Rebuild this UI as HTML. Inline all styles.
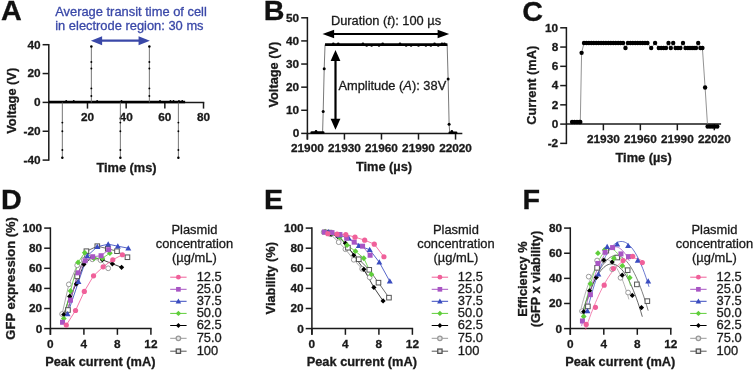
<!DOCTYPE html>
<html lang="en"><head><meta charset="utf-8"><title>Figure</title>
<style>html,body{margin:0;padding:0;background:#fff;}svg{display:block;filter:blur(0.35px);}text{font-family:"Liberation Sans",Arial,Helvetica,sans-serif;}</style></head>
<body>
<svg width="753" height="370" viewBox="0 0 753 370" font-family="'Liberation Sans', Arial, Helvetica, sans-serif" shape-rendering="geometricPrecision">
<rect width="753" height="370" fill="#fff"/>
<text transform="translate(1 20.4) scale(1.045 1)" font-size="27.5" font-weight="bold" fill="#111" stroke="#111" stroke-width="0.3">A</text>
<line x1="48.8" y1="43.95" x2="48.8" y2="160.85" stroke="#1a1a1a" stroke-width="1.5" />
<line x1="42.6" y1="44.7" x2="48.8" y2="44.7" stroke="#1a1a1a" stroke-width="1.5" />
<text x="40.6" y="48.6" font-size="11.8" font-weight="bold" text-anchor="end" fill="#1a1a1a" stroke="#1a1a1a" stroke-width="0.3" >40</text>
<line x1="42.6" y1="73.55" x2="48.8" y2="73.55" stroke="#1a1a1a" stroke-width="1.5" />
<text x="40.6" y="77.45" font-size="11.8" font-weight="bold" text-anchor="end" fill="#1a1a1a" stroke="#1a1a1a" stroke-width="0.3" >20</text>
<line x1="42.6" y1="102.4" x2="48.8" y2="102.4" stroke="#1a1a1a" stroke-width="1.5" />
<text x="40.6" y="106.3" font-size="11.8" font-weight="bold" text-anchor="end" fill="#1a1a1a" stroke="#1a1a1a" stroke-width="0.3" >0</text>
<line x1="42.6" y1="131.25" x2="48.8" y2="131.25" stroke="#1a1a1a" stroke-width="1.5" />
<text x="40.6" y="135.15" font-size="11.8" font-weight="bold" text-anchor="end" fill="#1a1a1a" stroke="#1a1a1a" stroke-width="0.3" >-20</text>
<line x1="42.6" y1="160.1" x2="48.8" y2="160.1" stroke="#1a1a1a" stroke-width="1.5" />
<text x="40.6" y="164" font-size="11.8" font-weight="bold" text-anchor="end" fill="#1a1a1a" stroke="#1a1a1a" stroke-width="0.3" >-40</text>
<line x1="48.8" y1="102.4" x2="204.27" y2="102.4" stroke="#1a1a1a" stroke-width="1.5" />
<line x1="87.48" y1="102.4" x2="87.48" y2="108.6" stroke="#1a1a1a" stroke-width="1.5" />
<text x="87.48" y="121.4" font-size="11.8" font-weight="bold" text-anchor="middle" fill="#1a1a1a" stroke="#1a1a1a" stroke-width="0.3" >20</text>
<line x1="126.16" y1="102.4" x2="126.16" y2="108.6" stroke="#1a1a1a" stroke-width="1.5" />
<text x="126.16" y="121.4" font-size="11.8" font-weight="bold" text-anchor="middle" fill="#1a1a1a" stroke="#1a1a1a" stroke-width="0.3" >40</text>
<line x1="164.84" y1="102.4" x2="164.84" y2="108.6" stroke="#1a1a1a" stroke-width="1.5" />
<text x="164.84" y="121.4" font-size="11.8" font-weight="bold" text-anchor="middle" fill="#1a1a1a" stroke="#1a1a1a" stroke-width="0.3" >60</text>
<line x1="203.52" y1="102.4" x2="203.52" y2="108.6" stroke="#1a1a1a" stroke-width="1.5" />
<text x="203.52" y="121.4" font-size="11.8" font-weight="bold" text-anchor="middle" fill="#1a1a1a" stroke="#1a1a1a" stroke-width="0.3" >80</text>
<text transform="translate(15.6 100.8) rotate(-90)" font-size="12.8" font-weight="bold" text-anchor="middle" fill="#1a1a1a" stroke="#1a1a1a" stroke-width="0.3">Voltage (V)</text>
<text x="126.5" y="172.2" font-size="12.8" font-weight="bold" text-anchor="middle" fill="#1a1a1a" stroke="#1a1a1a" stroke-width="0.3" >Time (ms)</text>
<line x1="48.8" y1="102" x2="185.15" y2="102" stroke="#000" stroke-width="2.6" />
<circle cx="66.21" cy="100.8" r="0.9" fill="#000"/>
<circle cx="73.75" cy="100.8" r="0.9" fill="#000"/>
<circle cx="97.15" cy="100.8" r="0.9" fill="#000"/>
<circle cx="121.52" cy="100.8" r="0.9" fill="#000"/>
<circle cx="160" cy="100.8" r="0.9" fill="#000"/>
<circle cx="170.45" cy="100.8" r="0.9" fill="#000"/>
<circle cx="173.54" cy="100.8" r="0.9" fill="#000"/>
<circle cx="178.96" cy="100.8" r="0.9" fill="#000"/>
<circle cx="182.25" cy="100.8" r="0.9" fill="#000"/>
<line x1="62.34" y1="102.4" x2="62.34" y2="157.94" stroke="#666" stroke-width="0.9" />
<circle cx="62.34" cy="157.65" r="1.25" fill="#000"/>
<circle cx="62.34" cy="150" r="0.95" fill="#000"/>
<circle cx="62.34" cy="131.25" r="0.95" fill="#000"/>
<circle cx="62.34" cy="122.59" r="0.95" fill="#000"/>
<line x1="91.35" y1="102.4" x2="91.35" y2="46.86" stroke="#666" stroke-width="0.9" />
<circle cx="91.35" cy="46.43" r="1.25" fill="#000"/>
<circle cx="91.35" cy="62.01" r="0.95" fill="#000"/>
<circle cx="91.35" cy="68.5" r="0.95" fill="#000"/>
<circle cx="91.35" cy="88.41" r="0.95" fill="#000"/>
<circle cx="91.35" cy="96.05" r="0.95" fill="#000"/>
<line x1="120.36" y1="102.4" x2="120.36" y2="157.94" stroke="#666" stroke-width="0.9" />
<circle cx="120.36" cy="157.65" r="1.25" fill="#000"/>
<circle cx="120.36" cy="150" r="0.95" fill="#000"/>
<circle cx="120.36" cy="131.25" r="0.95" fill="#000"/>
<circle cx="120.36" cy="122.59" r="0.95" fill="#000"/>
<line x1="149.37" y1="102.4" x2="149.37" y2="46.86" stroke="#666" stroke-width="0.9" />
<circle cx="149.37" cy="46.43" r="1.25" fill="#000"/>
<circle cx="149.37" cy="62.01" r="0.95" fill="#000"/>
<circle cx="149.37" cy="68.5" r="0.95" fill="#000"/>
<circle cx="149.37" cy="88.41" r="0.95" fill="#000"/>
<circle cx="149.37" cy="96.05" r="0.95" fill="#000"/>
<line x1="178.38" y1="102.4" x2="178.38" y2="157.94" stroke="#666" stroke-width="0.9" />
<circle cx="178.38" cy="157.65" r="1.25" fill="#000"/>
<circle cx="178.38" cy="150" r="0.95" fill="#000"/>
<circle cx="178.38" cy="131.25" r="0.95" fill="#000"/>
<circle cx="178.38" cy="122.59" r="0.95" fill="#000"/>
<text x="131" y="15.7" font-size="12.9" font-weight="normal" text-anchor="middle" fill="#3a48a8" stroke="#3a48a8" stroke-width="0.3" >Average transit time of cell</text>
<text x="129.4" y="30.3" font-size="12.9" font-weight="normal" text-anchor="middle" fill="#3a48a8" stroke="#3a48a8" stroke-width="0.3" >in electrode region: 30 ms</text>
<line x1="96.85" y1="40.7" x2="143.87" y2="40.7" stroke="#3a48a8" stroke-width="2.2" />
<polygon points="90.85,40.7 102.15,36.2 102.15,45.2" fill="#3a48a8"/>
<polygon points="149.87,40.7 138.57,36.2 138.57,45.2" fill="#3a48a8"/>
<text transform="translate(263.8 20.3) scale(1.045 1)" font-size="27.5" font-weight="bold" fill="#111" stroke="#111" stroke-width="0.3">B</text>
<line x1="307.4" y1="17.05" x2="307.4" y2="139.6" stroke="#1a1a1a" stroke-width="1.5" />
<line x1="301.2" y1="17.8" x2="307.4" y2="17.8" stroke="#1a1a1a" stroke-width="1.5" />
<text x="299.2" y="21.7" font-size="11.8" font-weight="bold" text-anchor="end" fill="#1a1a1a" stroke="#1a1a1a" stroke-width="0.3" >50</text>
<line x1="301.2" y1="40.92" x2="307.4" y2="40.92" stroke="#1a1a1a" stroke-width="1.5" />
<text x="299.2" y="44.82" font-size="11.8" font-weight="bold" text-anchor="end" fill="#1a1a1a" stroke="#1a1a1a" stroke-width="0.3" >40</text>
<line x1="301.2" y1="64.04" x2="307.4" y2="64.04" stroke="#1a1a1a" stroke-width="1.5" />
<text x="299.2" y="67.94" font-size="11.8" font-weight="bold" text-anchor="end" fill="#1a1a1a" stroke="#1a1a1a" stroke-width="0.3" >30</text>
<line x1="301.2" y1="87.16" x2="307.4" y2="87.16" stroke="#1a1a1a" stroke-width="1.5" />
<text x="299.2" y="91.06" font-size="11.8" font-weight="bold" text-anchor="end" fill="#1a1a1a" stroke="#1a1a1a" stroke-width="0.3" >20</text>
<line x1="301.2" y1="110.28" x2="307.4" y2="110.28" stroke="#1a1a1a" stroke-width="1.5" />
<text x="299.2" y="114.18" font-size="11.8" font-weight="bold" text-anchor="end" fill="#1a1a1a" stroke="#1a1a1a" stroke-width="0.3" >10</text>
<line x1="301.2" y1="133.4" x2="307.4" y2="133.4" stroke="#1a1a1a" stroke-width="1.5" />
<text x="299.2" y="137.3" font-size="11.8" font-weight="bold" text-anchor="end" fill="#1a1a1a" stroke="#1a1a1a" stroke-width="0.3" >0</text>
<line x1="307.4" y1="133.4" x2="462.33" y2="133.4" stroke="#1a1a1a" stroke-width="1.5" />
<line x1="307.4" y1="133.4" x2="307.4" y2="139.6" stroke="#1a1a1a" stroke-width="1.5" />
<text x="307.4" y="152.4" font-size="11.8" font-weight="bold" text-anchor="middle" fill="#1a1a1a" stroke="#1a1a1a" stroke-width="0.3" >21900</text>
<line x1="344.43" y1="133.4" x2="344.43" y2="139.6" stroke="#1a1a1a" stroke-width="1.5" />
<text x="344.43" y="152.4" font-size="11.8" font-weight="bold" text-anchor="middle" fill="#1a1a1a" stroke="#1a1a1a" stroke-width="0.3" >21930</text>
<line x1="381.47" y1="133.4" x2="381.47" y2="139.6" stroke="#1a1a1a" stroke-width="1.5" />
<text x="381.47" y="152.4" font-size="11.8" font-weight="bold" text-anchor="middle" fill="#1a1a1a" stroke="#1a1a1a" stroke-width="0.3" >21960</text>
<line x1="418.5" y1="133.4" x2="418.5" y2="139.6" stroke="#1a1a1a" stroke-width="1.5" />
<text x="418.5" y="152.4" font-size="11.8" font-weight="bold" text-anchor="middle" fill="#1a1a1a" stroke="#1a1a1a" stroke-width="0.3" >21990</text>
<line x1="455.54" y1="133.4" x2="455.54" y2="139.6" stroke="#1a1a1a" stroke-width="1.5" />
<text x="455.54" y="152.4" font-size="11.8" font-weight="bold" text-anchor="middle" fill="#1a1a1a" stroke="#1a1a1a" stroke-width="0.3" >22020</text>
<text transform="translate(277.6 74.6) rotate(-90)" font-size="12.8" font-weight="bold" text-anchor="middle" fill="#1a1a1a" stroke="#1a1a1a" stroke-width="0.3">Voltage (V)</text>
<text x="384" y="170.8" font-size="12.8" font-weight="bold" text-anchor="middle" fill="#1a1a1a" stroke="#1a1a1a" stroke-width="0.3" >Time (µs)</text>
<polyline points="311.1,132.71 322.58,132.71 323.2,111.44 324.19,68.66 325.05,44.62 447.15,44.62 448.13,79.07 449.12,124.15 449.74,132.94 456.77,132.94" fill="none" stroke="#555" stroke-width="0.8" />
<line x1="325.05" y1="44.62" x2="447.39" y2="44.62" stroke="#000" stroke-width="2.9" />
<circle cx="333.32" cy="43.81" r="1.3" fill="#000"/>
<circle cx="338.26" cy="43.81" r="1.3" fill="#000"/>
<circle cx="362.95" cy="43.81" r="1.3" fill="#000"/>
<circle cx="366.66" cy="45.43" r="1.3" fill="#000"/>
<circle cx="371.59" cy="45.43" r="1.3" fill="#000"/>
<circle cx="379" cy="45.43" r="1.3" fill="#000"/>
<circle cx="382.7" cy="43.81" r="1.3" fill="#000"/>
<circle cx="399.99" cy="43.81" r="1.3" fill="#000"/>
<circle cx="406.16" cy="45.43" r="1.3" fill="#000"/>
<circle cx="411.1" cy="45.43" r="1.3" fill="#000"/>
<circle cx="418.5" cy="45.43" r="1.3" fill="#000"/>
<circle cx="425.91" cy="45.43" r="1.3" fill="#000"/>
<circle cx="430.85" cy="45.43" r="1.3" fill="#000"/>
<circle cx="434.55" cy="43.81" r="1.3" fill="#000"/>
<circle cx="438.26" cy="45.43" r="1.3" fill="#000"/>
<circle cx="441.96" cy="43.81" r="1.3" fill="#000"/>
<circle cx="444.43" cy="43.81" r="1.3" fill="#000"/>
<line x1="311.72" y1="132.59" x2="323.2" y2="132.59" stroke="#000" stroke-width="2.6" stroke-linecap="round"/>
<circle cx="316.04" cy="131.32" r="1.3" fill="#000"/>
<line x1="449.74" y1="132.71" x2="456.16" y2="132.71" stroke="#000" stroke-width="2.6" stroke-linecap="round"/>
<circle cx="451.84" cy="131.32" r="1.3" fill="#000"/>
<circle cx="323.2" cy="111.44" r="1.5" fill="#000"/>
<circle cx="324.19" cy="68.66" r="1.5" fill="#000"/>
<circle cx="448.13" cy="79.07" r="1.5" fill="#000"/>
<circle cx="449.12" cy="124.15" r="1.5" fill="#000"/>
<text x="386" y="24.9" font-size="12.85" font-weight="normal" text-anchor="middle" fill="#1a1a1a" stroke="#1a1a1a" stroke-width="0.3" >Duration (<tspan font-style="italic">t</tspan>): 100 µs</text>
<line x1="328.5" y1="34" x2="443.2" y2="34" stroke="#000" stroke-width="2.2" />
<polygon points="322.5,34 334.1,29.8 334.1,38.2" fill="#000"/>
<polygon points="449.2,34 437.6,29.8 437.6,38.2" fill="#000"/>
<line x1="335.5" y1="55.9" x2="335.5" y2="123.8" stroke="#000" stroke-width="2.2" />
<polygon points="335.5,49.9 330.6,60.9 340.4,60.9" fill="#000"/>
<polygon points="335.5,129.8 330.6,118.8 340.4,118.8" fill="#000"/>
<text x="338.4" y="90" font-size="12.85" font-weight="normal" text-anchor="start" fill="#1a1a1a" stroke="#1a1a1a" stroke-width="0.3" >Amplitude (<tspan font-style="italic">A</tspan>): 38V</text>
<text transform="translate(522.2 20.5) scale(1.045 1)" font-size="27.5" font-weight="bold" fill="#111" stroke="#111" stroke-width="0.3">C</text>
<line x1="566.4" y1="27.05" x2="566.4" y2="144.11" stroke="#1a1a1a" stroke-width="1.5" />
<line x1="560.2" y1="27.8" x2="566.4" y2="27.8" stroke="#1a1a1a" stroke-width="1.5" />
<text x="558.2" y="31.7" font-size="11.8" font-weight="bold" text-anchor="end" fill="#1a1a1a" stroke="#1a1a1a" stroke-width="0.3" >10</text>
<line x1="560.2" y1="47.06" x2="566.4" y2="47.06" stroke="#1a1a1a" stroke-width="1.5" />
<text x="558.2" y="50.96" font-size="11.8" font-weight="bold" text-anchor="end" fill="#1a1a1a" stroke="#1a1a1a" stroke-width="0.3" >8</text>
<line x1="560.2" y1="66.32" x2="566.4" y2="66.32" stroke="#1a1a1a" stroke-width="1.5" />
<text x="558.2" y="70.22" font-size="11.8" font-weight="bold" text-anchor="end" fill="#1a1a1a" stroke="#1a1a1a" stroke-width="0.3" >6</text>
<line x1="560.2" y1="85.58" x2="566.4" y2="85.58" stroke="#1a1a1a" stroke-width="1.5" />
<text x="558.2" y="89.48" font-size="11.8" font-weight="bold" text-anchor="end" fill="#1a1a1a" stroke="#1a1a1a" stroke-width="0.3" >4</text>
<line x1="560.2" y1="104.84" x2="566.4" y2="104.84" stroke="#1a1a1a" stroke-width="1.5" />
<text x="558.2" y="108.74" font-size="11.8" font-weight="bold" text-anchor="end" fill="#1a1a1a" stroke="#1a1a1a" stroke-width="0.3" >2</text>
<line x1="560.2" y1="124.1" x2="566.4" y2="124.1" stroke="#1a1a1a" stroke-width="1.5" />
<text x="558.2" y="128" font-size="11.8" font-weight="bold" text-anchor="end" fill="#1a1a1a" stroke="#1a1a1a" stroke-width="0.3" >0</text>
<line x1="560.2" y1="143.36" x2="566.4" y2="143.36" stroke="#1a1a1a" stroke-width="1.5" />
<text x="558.2" y="147.26" font-size="11.8" font-weight="bold" text-anchor="end" fill="#1a1a1a" stroke="#1a1a1a" stroke-width="0.3" >-2</text>
<line x1="566.4" y1="124.1" x2="721.08" y2="124.1" stroke="#1a1a1a" stroke-width="1.5" />
<line x1="603.38" y1="124.1" x2="603.38" y2="130.3" stroke="#1a1a1a" stroke-width="1.5" />
<text x="603.38" y="143.1" font-size="11.8" font-weight="bold" text-anchor="middle" fill="#1a1a1a" stroke="#1a1a1a" stroke-width="0.3" >21930</text>
<line x1="640.35" y1="124.1" x2="640.35" y2="130.3" stroke="#1a1a1a" stroke-width="1.5" />
<text x="640.35" y="143.1" font-size="11.8" font-weight="bold" text-anchor="middle" fill="#1a1a1a" stroke="#1a1a1a" stroke-width="0.3" >21960</text>
<line x1="677.32" y1="124.1" x2="677.32" y2="130.3" stroke="#1a1a1a" stroke-width="1.5" />
<text x="677.32" y="143.1" font-size="11.8" font-weight="bold" text-anchor="middle" fill="#1a1a1a" stroke="#1a1a1a" stroke-width="0.3" >21990</text>
<line x1="714.3" y1="124.1" x2="714.3" y2="130.3" stroke="#1a1a1a" stroke-width="1.5" />
<text x="714.3" y="143.1" font-size="11.8" font-weight="bold" text-anchor="middle" fill="#1a1a1a" stroke="#1a1a1a" stroke-width="0.3" >22020</text>
<text transform="translate(536.3 85.25) rotate(-90)" font-size="12.8" font-weight="bold" text-anchor="middle" fill="#1a1a1a" stroke="#1a1a1a" stroke-width="0.3">Current (mA)</text>
<text x="643.6" y="162" font-size="12.8" font-weight="bold" text-anchor="middle" fill="#1a1a1a" stroke="#1a1a1a" stroke-width="0.3" >Time (µs)</text>
<polyline points="572.1,121.98 574.5,121.98 577,121.98 579.4,121.98 580.3,121.98 581.6,52.84 584,43.02 586.44,43.02 588.88,43.02 591.32,43.02 593.76,43.02 596.2,43.02 598.64,43.02 601.08,43.02 603.52,43.02 605.96,43.02 608.4,43.02 610.84,43.02 613.28,43.02 615.72,43.02 618.16,43.02 620.6,43.02 623.04,43.02 625.48,48.02 627.92,43.02 630.36,43.02 632.8,43.02 635.24,43.02 637.68,43.02 640.12,43.02 642.56,43.02 645,43.02 647.44,43.02 651.2,48.02 655.1,43.02 658.8,48.02 661.2,48.02 663.7,48.02 666,48.02 668.5,43.02 670.8,48.02 673.2,43.02 675.6,48.02 678,48.02 680.4,48.02 683,43.02 685.5,48.02 687.9,48.02 690,48.02 692.1,48.02 694.1,48.02 696,48.02 698.2,43.02 700.4,48.02 702.4,48.02 705.1,87.51 707.6,126.51 710,126.51 712.4,126.51 714.8,126.51 717.3,126.51" fill="none" stroke="#777" stroke-width="0.8" />
<g fill="#000"><circle cx="572.1" cy="121.98" r="2.2"/><circle cx="574.5" cy="121.98" r="2.2"/><circle cx="577" cy="121.98" r="2.2"/><circle cx="579.4" cy="121.98" r="2.2"/><circle cx="580.3" cy="121.98" r="2.2"/><circle cx="581.6" cy="52.84" r="2.2"/><circle cx="584" cy="43.02" r="2.2"/><circle cx="586.44" cy="43.02" r="2.2"/><circle cx="588.88" cy="43.02" r="2.2"/><circle cx="591.32" cy="43.02" r="2.2"/><circle cx="593.76" cy="43.02" r="2.2"/><circle cx="596.2" cy="43.02" r="2.2"/><circle cx="598.64" cy="43.02" r="2.2"/><circle cx="601.08" cy="43.02" r="2.2"/><circle cx="603.52" cy="43.02" r="2.2"/><circle cx="605.96" cy="43.02" r="2.2"/><circle cx="608.4" cy="43.02" r="2.2"/><circle cx="610.84" cy="43.02" r="2.2"/><circle cx="613.28" cy="43.02" r="2.2"/><circle cx="615.72" cy="43.02" r="2.2"/><circle cx="618.16" cy="43.02" r="2.2"/><circle cx="620.6" cy="43.02" r="2.2"/><circle cx="623.04" cy="43.02" r="2.2"/><circle cx="625.48" cy="48.02" r="2.2"/><circle cx="627.92" cy="43.02" r="2.2"/><circle cx="630.36" cy="43.02" r="2.2"/><circle cx="632.8" cy="43.02" r="2.2"/><circle cx="635.24" cy="43.02" r="2.2"/><circle cx="637.68" cy="43.02" r="2.2"/><circle cx="640.12" cy="43.02" r="2.2"/><circle cx="642.56" cy="43.02" r="2.2"/><circle cx="645" cy="43.02" r="2.2"/><circle cx="647.44" cy="43.02" r="2.2"/><circle cx="651.2" cy="48.02" r="2.2"/><circle cx="655.1" cy="43.02" r="2.2"/><circle cx="658.8" cy="48.02" r="2.2"/><circle cx="661.2" cy="48.02" r="2.2"/><circle cx="663.7" cy="48.02" r="2.2"/><circle cx="666" cy="48.02" r="2.2"/><circle cx="668.5" cy="43.02" r="2.2"/><circle cx="670.8" cy="48.02" r="2.2"/><circle cx="673.2" cy="43.02" r="2.2"/><circle cx="675.6" cy="48.02" r="2.2"/><circle cx="678" cy="48.02" r="2.2"/><circle cx="680.4" cy="48.02" r="2.2"/><circle cx="683" cy="43.02" r="2.2"/><circle cx="685.5" cy="48.02" r="2.2"/><circle cx="687.9" cy="48.02" r="2.2"/><circle cx="690" cy="48.02" r="2.2"/><circle cx="692.1" cy="48.02" r="2.2"/><circle cx="694.1" cy="48.02" r="2.2"/><circle cx="696" cy="48.02" r="2.2"/><circle cx="698.2" cy="43.02" r="2.2"/><circle cx="700.4" cy="48.02" r="2.2"/><circle cx="702.4" cy="48.02" r="2.2"/><circle cx="705.1" cy="87.51" r="2.2"/><circle cx="707.6" cy="126.51" r="2.2"/><circle cx="710" cy="126.51" r="2.2"/><circle cx="712.4" cy="126.51" r="2.2"/><circle cx="714.8" cy="126.51" r="2.2"/><circle cx="717.3" cy="126.51" r="2.2"/></g>
<text transform="translate(1 209.3) scale(1.045 1)" font-size="27.5" font-weight="bold" fill="#111" stroke="#111" stroke-width="0.3">D</text>
<line x1="50.4" y1="227.35" x2="50.4" y2="334.8" stroke="#1a1a1a" stroke-width="1.5" />
<line x1="44.2" y1="328.6" x2="50.4" y2="328.6" stroke="#1a1a1a" stroke-width="1.5" />
<text x="42.2" y="332.5" font-size="11.8" font-weight="bold" text-anchor="end" fill="#1a1a1a" stroke="#1a1a1a" stroke-width="0.3" >0</text>
<line x1="44.2" y1="308.5" x2="50.4" y2="308.5" stroke="#1a1a1a" stroke-width="1.5" />
<text x="42.2" y="312.4" font-size="11.8" font-weight="bold" text-anchor="end" fill="#1a1a1a" stroke="#1a1a1a" stroke-width="0.3" >20</text>
<line x1="44.2" y1="288.4" x2="50.4" y2="288.4" stroke="#1a1a1a" stroke-width="1.5" />
<text x="42.2" y="292.3" font-size="11.8" font-weight="bold" text-anchor="end" fill="#1a1a1a" stroke="#1a1a1a" stroke-width="0.3" >40</text>
<line x1="44.2" y1="268.3" x2="50.4" y2="268.3" stroke="#1a1a1a" stroke-width="1.5" />
<text x="42.2" y="272.2" font-size="11.8" font-weight="bold" text-anchor="end" fill="#1a1a1a" stroke="#1a1a1a" stroke-width="0.3" >60</text>
<line x1="44.2" y1="248.2" x2="50.4" y2="248.2" stroke="#1a1a1a" stroke-width="1.5" />
<text x="42.2" y="252.1" font-size="11.8" font-weight="bold" text-anchor="end" fill="#1a1a1a" stroke="#1a1a1a" stroke-width="0.3" >80</text>
<line x1="44.2" y1="228.1" x2="50.4" y2="228.1" stroke="#1a1a1a" stroke-width="1.5" />
<text x="42.2" y="232" font-size="11.8" font-weight="bold" text-anchor="end" fill="#1a1a1a" stroke="#1a1a1a" stroke-width="0.3" >100</text>
<line x1="50.4" y1="328.6" x2="151.65" y2="328.6" stroke="#1a1a1a" stroke-width="1.5" />
<line x1="50.4" y1="328.6" x2="50.4" y2="334.8" stroke="#1a1a1a" stroke-width="1.5" />
<text x="50.4" y="348" font-size="11.8" font-weight="bold" text-anchor="middle" fill="#1a1a1a" stroke="#1a1a1a" stroke-width="0.3" >0</text>
<line x1="83.9" y1="328.6" x2="83.9" y2="334.8" stroke="#1a1a1a" stroke-width="1.5" />
<text x="83.9" y="348" font-size="11.8" font-weight="bold" text-anchor="middle" fill="#1a1a1a" stroke="#1a1a1a" stroke-width="0.3" >4</text>
<line x1="117.4" y1="328.6" x2="117.4" y2="334.8" stroke="#1a1a1a" stroke-width="1.5" />
<text x="117.4" y="348" font-size="11.8" font-weight="bold" text-anchor="middle" fill="#1a1a1a" stroke="#1a1a1a" stroke-width="0.3" >8</text>
<line x1="150.9" y1="328.6" x2="150.9" y2="334.8" stroke="#1a1a1a" stroke-width="1.5" />
<text x="150.9" y="348" font-size="11.8" font-weight="bold" text-anchor="middle" fill="#1a1a1a" stroke="#1a1a1a" stroke-width="0.3" >12</text>
<text transform="translate(15.3 278.35) rotate(-90)" font-size="13.0" font-weight="bold" text-anchor="middle" fill="#1a1a1a" stroke="#1a1a1a" stroke-width="0.3">GFP expression (%)</text>
<text x="100.35" y="365.6" font-size="12.8" font-weight="bold" text-anchor="middle" fill="#1a1a1a" stroke="#1a1a1a" stroke-width="0.3" >Peak current (mA)</text>
<polyline points="62.12,314.03 68.83,284.38 77.2,265.29 83.9,259.76 92.28,259.25 100.65,260.26 108.19,268.3" fill="none" stroke="#9a9a9a" stroke-width="0.85" />
<polyline points="67.99,310.01 77.2,276.34 86.41,251.22 97.3,246.19 107.77,248.7 116.98,251.22 127.45,257.25" fill="none" stroke="#555555" stroke-width="0.85" />
<polyline points="63.8,314.53 69.66,296.44 76.36,283.88 83.9,264.28 92.28,257.25 102.33,259.76 112.38,263.78 121.59,267.3" fill="none" stroke="#222" stroke-width="0.85" />
<polyline points="63.8,318.55 70.5,290.91 78.04,262.47 84.74,252.72 93.95,258.25 102.33,258.25 109.86,253.22" fill="none" stroke="#5fce3a" stroke-width="0.85" />
<polyline points="67.57,314.03 78.46,281.87 87.25,255.94 97.3,246.69 108.19,244.18 117.82,246.19 128.29,248.2" fill="none" stroke="#3a4cc0" stroke-width="0.85" />
<polyline points="62.54,322.27 70.5,300.16 78.04,272.82 85.16,260.76 92.69,256.74 101.07,255.74 108.61,249.71" fill="none" stroke="#a855c4" stroke-width="0.85" />
<polyline points="66.31,325.08 75.53,310.51 84.32,291.42 93.53,275.84 103.16,266.79 112.79,259.76 122.42,254.73" fill="none" stroke="#f0609a" stroke-width="0.85" />
<circle cx="62.12" cy="314.03" r="2.4" fill="#fff" stroke="#9a9a9a" stroke-width="1"/>
<circle cx="68.83" cy="284.38" r="2.4" fill="#fff" stroke="#9a9a9a" stroke-width="1"/>
<circle cx="77.2" cy="265.29" r="2.4" fill="#fff" stroke="#9a9a9a" stroke-width="1"/>
<circle cx="83.9" cy="259.76" r="2.4" fill="#fff" stroke="#9a9a9a" stroke-width="1"/>
<circle cx="92.28" cy="259.25" r="2.4" fill="#fff" stroke="#9a9a9a" stroke-width="1"/>
<circle cx="100.65" cy="260.26" r="2.4" fill="#fff" stroke="#9a9a9a" stroke-width="1"/>
<circle cx="108.19" cy="268.3" r="2.4" fill="#fff" stroke="#9a9a9a" stroke-width="1"/>
<rect x="65.69" y="307.71" width="4.6" height="4.6" fill="#fff" stroke="#555555" stroke-width="1"/>
<rect x="74.9" y="274.04" width="4.6" height="4.6" fill="#fff" stroke="#555555" stroke-width="1"/>
<rect x="84.11" y="248.91" width="4.6" height="4.6" fill="#fff" stroke="#555555" stroke-width="1"/>
<rect x="95" y="243.89" width="4.6" height="4.6" fill="#fff" stroke="#555555" stroke-width="1"/>
<rect x="105.47" y="246.4" width="4.6" height="4.6" fill="#fff" stroke="#555555" stroke-width="1"/>
<rect x="114.68" y="248.91" width="4.6" height="4.6" fill="#fff" stroke="#555555" stroke-width="1"/>
<rect x="125.15" y="254.94" width="4.6" height="4.6" fill="#fff" stroke="#555555" stroke-width="1"/>
<polygon points="63.8,311.93 66.4,314.53 63.8,317.13 61.2,314.53" fill="#000000"/>
<polygon points="69.66,293.84 72.26,296.44 69.66,299.04 67.06,296.44" fill="#000000"/>
<polygon points="76.36,281.28 78.96,283.88 76.36,286.48 73.76,283.88" fill="#000000"/>
<polygon points="83.9,261.68 86.5,264.28 83.9,266.88 81.3,264.28" fill="#000000"/>
<polygon points="92.28,254.65 94.88,257.25 92.28,259.85 89.68,257.25" fill="#000000"/>
<polygon points="102.33,257.16 104.92,259.76 102.33,262.36 99.73,259.76" fill="#000000"/>
<polygon points="112.38,261.18 114.97,263.78 112.38,266.38 109.78,263.78" fill="#000000"/>
<polygon points="121.59,264.69 124.19,267.3 121.59,269.9 118.99,267.3" fill="#000000"/>
<polygon points="63.8,315.65 66.7,318.55 63.8,321.45 60.9,318.55" fill="#5fce3a"/>
<polygon points="70.5,288.01 73.4,290.91 70.5,293.81 67.6,290.91" fill="#5fce3a"/>
<polygon points="78.04,259.57 80.94,262.47 78.04,265.37 75.14,262.47" fill="#5fce3a"/>
<polygon points="84.74,249.82 87.64,252.72 84.74,255.62 81.84,252.72" fill="#5fce3a"/>
<polygon points="93.95,255.35 96.85,258.25 93.95,261.15 91.05,258.25" fill="#5fce3a"/>
<polygon points="102.33,255.35 105.23,258.25 102.33,261.15 99.42,258.25" fill="#5fce3a"/>
<polygon points="109.86,250.32 112.76,253.22 109.86,256.12 106.96,253.22" fill="#5fce3a"/>
<polygon points="67.57,311.03 64.57,316.28 70.57,316.28" fill="#3a4cc0"/>
<polygon points="78.46,278.87 75.46,284.12 81.46,284.12" fill="#3a4cc0"/>
<polygon points="87.25,252.94 84.25,258.19 90.25,258.19" fill="#3a4cc0"/>
<polygon points="97.3,243.69 94.3,248.94 100.3,248.94" fill="#3a4cc0"/>
<polygon points="108.19,241.18 105.19,246.43 111.19,246.43" fill="#3a4cc0"/>
<polygon points="117.82,243.19 114.82,248.44 120.82,248.44" fill="#3a4cc0"/>
<polygon points="128.29,245.2 125.29,250.45 131.29,250.45" fill="#3a4cc0"/>
<rect x="60.04" y="319.77" width="5" height="5" fill="#a855c4"/>
<rect x="68" y="297.66" width="5" height="5" fill="#a855c4"/>
<rect x="75.54" y="270.32" width="5" height="5" fill="#a855c4"/>
<rect x="82.66" y="258.26" width="5" height="5" fill="#a855c4"/>
<rect x="90.19" y="254.24" width="5" height="5" fill="#a855c4"/>
<rect x="98.57" y="253.24" width="5" height="5" fill="#a855c4"/>
<rect x="106.11" y="247.21" width="5" height="5" fill="#a855c4"/>
<circle cx="66.31" cy="325.08" r="2.6" fill="#f0609a"/>
<circle cx="75.53" cy="310.51" r="2.6" fill="#f0609a"/>
<circle cx="84.32" cy="291.42" r="2.6" fill="#f0609a"/>
<circle cx="93.53" cy="275.84" r="2.6" fill="#f0609a"/>
<circle cx="103.16" cy="266.79" r="2.6" fill="#f0609a"/>
<circle cx="112.79" cy="259.76" r="2.6" fill="#f0609a"/>
<circle cx="122.42" cy="254.73" r="2.6" fill="#f0609a"/>
<text x="194.4" y="233.7" font-size="12.9" font-weight="normal" text-anchor="middle" fill="#1a1a1a" stroke="#1a1a1a" stroke-width="0.3" >Plasmid</text>
<text x="194.4" y="247.9" font-size="12.9" font-weight="normal" text-anchor="middle" fill="#1a1a1a" stroke="#1a1a1a" stroke-width="0.3" >concentration</text>
<text x="194.4" y="262.1" font-size="12.9" font-weight="normal" text-anchor="middle" fill="#1a1a1a" stroke="#1a1a1a" stroke-width="0.3" >(µg/mL)</text>
<line x1="170.2" y1="277.2" x2="186.6" y2="277.2" stroke="#f0609a" stroke-width="1" />
<circle cx="178.4" cy="277.2" r="2.42" fill="#f0609a"/>
<text x="196.7" y="280.5" font-size="12.9" font-weight="normal" text-anchor="start" fill="#1a1a1a" stroke="#1a1a1a" stroke-width="0.3" >12.5</text>
<line x1="170.2" y1="289.3" x2="186.6" y2="289.3" stroke="#a855c4" stroke-width="1" />
<rect x="176.08" y="286.98" width="4.65" height="4.65" fill="#a855c4"/>
<text x="196.7" y="292.6" font-size="12.9" font-weight="normal" text-anchor="start" fill="#1a1a1a" stroke="#1a1a1a" stroke-width="0.3" >25.0</text>
<line x1="170.2" y1="301.3" x2="186.6" y2="301.3" stroke="#3a4cc0" stroke-width="1" />
<polygon points="178.4,298.51 175.61,303.39 181.19,303.39" fill="#3a4cc0"/>
<text x="196.7" y="304.6" font-size="12.9" font-weight="normal" text-anchor="start" fill="#1a1a1a" stroke="#1a1a1a" stroke-width="0.3" >37.5</text>
<line x1="170.2" y1="313.4" x2="186.6" y2="313.4" stroke="#5fce3a" stroke-width="1" />
<polygon points="178.4,310.7 181.1,313.4 178.4,316.1 175.7,313.4" fill="#5fce3a"/>
<text x="196.7" y="316.7" font-size="12.9" font-weight="normal" text-anchor="start" fill="#1a1a1a" stroke="#1a1a1a" stroke-width="0.3" >50.0</text>
<line x1="170.2" y1="325.5" x2="186.6" y2="325.5" stroke="#000000" stroke-width="1" />
<polygon points="178.4,323.08 180.82,325.5 178.4,327.92 175.98,325.5" fill="#000000"/>
<text x="196.7" y="328.8" font-size="12.9" font-weight="normal" text-anchor="start" fill="#1a1a1a" stroke="#1a1a1a" stroke-width="0.3" >62.5</text>
<line x1="170.2" y1="338.3" x2="186.6" y2="338.3" stroke="#9a9a9a" stroke-width="1" />
<circle cx="178.4" cy="338.3" r="2.23" fill="#e6e6e6" stroke="#9a9a9a" stroke-width="1.3"/>
<text x="196.7" y="341.6" font-size="12.9" font-weight="normal" text-anchor="start" fill="#1a1a1a" stroke="#1a1a1a" stroke-width="0.3" >75.0</text>
<line x1="170.2" y1="351.2" x2="186.6" y2="351.2" stroke="#555555" stroke-width="1" />
<rect x="176.26" y="349.06" width="4.28" height="4.28" fill="#e6e6e6" stroke="#555555" stroke-width="1.3"/>
<text x="196.7" y="354.5" font-size="12.9" font-weight="normal" text-anchor="start" fill="#1a1a1a" stroke="#1a1a1a" stroke-width="0.3" >100</text>
<text transform="translate(263.9 209.3) scale(1.045 1)" font-size="27.5" font-weight="bold" fill="#111" stroke="#111" stroke-width="0.3">E</text>
<line x1="311.9" y1="227.35" x2="311.9" y2="334.8" stroke="#1a1a1a" stroke-width="1.5" />
<line x1="305.7" y1="328.6" x2="311.9" y2="328.6" stroke="#1a1a1a" stroke-width="1.5" />
<text x="303.7" y="332.5" font-size="11.8" font-weight="bold" text-anchor="end" fill="#1a1a1a" stroke="#1a1a1a" stroke-width="0.3" >0</text>
<line x1="305.7" y1="308.5" x2="311.9" y2="308.5" stroke="#1a1a1a" stroke-width="1.5" />
<text x="303.7" y="312.4" font-size="11.8" font-weight="bold" text-anchor="end" fill="#1a1a1a" stroke="#1a1a1a" stroke-width="0.3" >20</text>
<line x1="305.7" y1="288.4" x2="311.9" y2="288.4" stroke="#1a1a1a" stroke-width="1.5" />
<text x="303.7" y="292.3" font-size="11.8" font-weight="bold" text-anchor="end" fill="#1a1a1a" stroke="#1a1a1a" stroke-width="0.3" >40</text>
<line x1="305.7" y1="268.3" x2="311.9" y2="268.3" stroke="#1a1a1a" stroke-width="1.5" />
<text x="303.7" y="272.2" font-size="11.8" font-weight="bold" text-anchor="end" fill="#1a1a1a" stroke="#1a1a1a" stroke-width="0.3" >60</text>
<line x1="305.7" y1="248.2" x2="311.9" y2="248.2" stroke="#1a1a1a" stroke-width="1.5" />
<text x="303.7" y="252.1" font-size="11.8" font-weight="bold" text-anchor="end" fill="#1a1a1a" stroke="#1a1a1a" stroke-width="0.3" >80</text>
<line x1="305.7" y1="228.1" x2="311.9" y2="228.1" stroke="#1a1a1a" stroke-width="1.5" />
<text x="303.7" y="232" font-size="11.8" font-weight="bold" text-anchor="end" fill="#1a1a1a" stroke="#1a1a1a" stroke-width="0.3" >100</text>
<line x1="311.9" y1="328.6" x2="413.15" y2="328.6" stroke="#1a1a1a" stroke-width="1.5" />
<line x1="311.9" y1="328.6" x2="311.9" y2="334.8" stroke="#1a1a1a" stroke-width="1.5" />
<text x="311.9" y="348" font-size="11.8" font-weight="bold" text-anchor="middle" fill="#1a1a1a" stroke="#1a1a1a" stroke-width="0.3" >0</text>
<line x1="345.4" y1="328.6" x2="345.4" y2="334.8" stroke="#1a1a1a" stroke-width="1.5" />
<text x="345.4" y="348" font-size="11.8" font-weight="bold" text-anchor="middle" fill="#1a1a1a" stroke="#1a1a1a" stroke-width="0.3" >4</text>
<line x1="378.9" y1="328.6" x2="378.9" y2="334.8" stroke="#1a1a1a" stroke-width="1.5" />
<text x="378.9" y="348" font-size="11.8" font-weight="bold" text-anchor="middle" fill="#1a1a1a" stroke="#1a1a1a" stroke-width="0.3" >8</text>
<line x1="412.4" y1="328.6" x2="412.4" y2="334.8" stroke="#1a1a1a" stroke-width="1.5" />
<text x="412.4" y="348" font-size="11.8" font-weight="bold" text-anchor="middle" fill="#1a1a1a" stroke="#1a1a1a" stroke-width="0.3" >12</text>
<text transform="translate(274.9 278.25) rotate(-90)" font-size="12.8" font-weight="bold" text-anchor="middle" fill="#1a1a1a" stroke="#1a1a1a" stroke-width="0.3">Viability (%)</text>
<text x="361.85" y="365.6" font-size="12.8" font-weight="bold" text-anchor="middle" fill="#1a1a1a" stroke="#1a1a1a" stroke-width="0.3" >Peak current (mA)</text>
<polyline points="323.62,232.12 330.32,234.13 338.7,242.17 345.4,249.2 353.77,259.76 362.15,268.8 369.69,277.35" fill="none" stroke="#9a9a9a" stroke-width="0.85" />
<polyline points="329.49,232.62 338.7,235.13 347.91,247.7 358.8,259.25 369.27,269.81 378.48,282.67 388.95,297.65" fill="none" stroke="#555555" stroke-width="0.85" />
<polyline points="325.3,231.62 331.16,234.13 337.86,236.64 345.4,243.18 353.77,255.24 363.82,269.31 373.88,287.39 383.09,300.96" fill="none" stroke="#222" stroke-width="0.85" />
<polyline points="325.3,231.62 332,233.12 339.54,237.14 347.07,245.19 355.45,251.22 363.82,258.25 371.36,274.33" fill="none" stroke="#5fce3a" stroke-width="0.85" />
<polyline points="328.65,232.12 338.7,235.13 348.75,238.15 358.8,245.69 369.69,249.71 379.32,262.27 389.79,281.37" fill="none" stroke="#3a4cc0" stroke-width="0.85" />
<polyline points="324.46,232.12 332,232.62 339.96,234.63 346.66,238.15 354.19,242.17 362.57,246.19 370.11,255.24" fill="none" stroke="#a855c4" stroke-width="0.85" />
<polyline points="327.81,233.63 337.02,234.13 345.82,234.63 355.03,237.14 364.66,240.16 374.29,244.18 383.92,256.74" fill="none" stroke="#f0609a" stroke-width="0.85" />
<circle cx="323.62" cy="232.12" r="2.4" fill="#fff" stroke="#9a9a9a" stroke-width="1"/>
<circle cx="330.32" cy="234.13" r="2.4" fill="#fff" stroke="#9a9a9a" stroke-width="1"/>
<circle cx="338.7" cy="242.17" r="2.4" fill="#fff" stroke="#9a9a9a" stroke-width="1"/>
<circle cx="345.4" cy="249.2" r="2.4" fill="#fff" stroke="#9a9a9a" stroke-width="1"/>
<circle cx="353.77" cy="259.76" r="2.4" fill="#fff" stroke="#9a9a9a" stroke-width="1"/>
<circle cx="362.15" cy="268.8" r="2.4" fill="#fff" stroke="#9a9a9a" stroke-width="1"/>
<circle cx="369.69" cy="277.35" r="2.4" fill="#fff" stroke="#9a9a9a" stroke-width="1"/>
<rect x="327.19" y="230.32" width="4.6" height="4.6" fill="#fff" stroke="#555555" stroke-width="1"/>
<rect x="336.4" y="232.83" width="4.6" height="4.6" fill="#fff" stroke="#555555" stroke-width="1"/>
<rect x="345.61" y="245.4" width="4.6" height="4.6" fill="#fff" stroke="#555555" stroke-width="1"/>
<rect x="356.5" y="256.95" width="4.6" height="4.6" fill="#fff" stroke="#555555" stroke-width="1"/>
<rect x="366.97" y="267.51" width="4.6" height="4.6" fill="#fff" stroke="#555555" stroke-width="1"/>
<rect x="376.18" y="280.37" width="4.6" height="4.6" fill="#fff" stroke="#555555" stroke-width="1"/>
<rect x="386.65" y="295.35" width="4.6" height="4.6" fill="#fff" stroke="#555555" stroke-width="1"/>
<polygon points="325.3,229.02 327.9,231.62 325.3,234.22 322.7,231.62" fill="#000000"/>
<polygon points="331.16,231.53 333.76,234.13 331.16,236.73 328.56,234.13" fill="#000000"/>
<polygon points="337.86,234.04 340.46,236.64 337.86,239.24 335.26,236.64" fill="#000000"/>
<polygon points="345.4,240.58 348,243.18 345.4,245.78 342.8,243.18" fill="#000000"/>
<polygon points="353.77,252.64 356.38,255.24 353.77,257.84 351.17,255.24" fill="#000000"/>
<polygon points="363.82,266.7 366.43,269.31 363.82,271.91 361.22,269.31" fill="#000000"/>
<polygon points="373.88,284.79 376.48,287.39 373.88,290 371.27,287.39" fill="#000000"/>
<polygon points="383.09,298.36 385.69,300.96 383.09,303.56 380.49,300.96" fill="#000000"/>
<polygon points="325.3,228.72 328.2,231.62 325.3,234.52 322.4,231.62" fill="#5fce3a"/>
<polygon points="332,230.22 334.9,233.12 332,236.03 329.1,233.12" fill="#5fce3a"/>
<polygon points="339.54,234.24 342.44,237.14 339.54,240.04 336.64,237.14" fill="#5fce3a"/>
<polygon points="347.07,242.28 349.97,245.19 347.07,248.09 344.18,245.19" fill="#5fce3a"/>
<polygon points="355.45,248.31 358.35,251.22 355.45,254.12 352.55,251.22" fill="#5fce3a"/>
<polygon points="363.82,255.35 366.72,258.25 363.82,261.15 360.93,258.25" fill="#5fce3a"/>
<polygon points="371.36,271.43 374.26,274.33 371.36,277.23 368.46,274.33" fill="#5fce3a"/>
<polygon points="328.65,229.12 325.65,234.37 331.65,234.37" fill="#3a4cc0"/>
<polygon points="338.7,232.13 335.7,237.38 341.7,237.38" fill="#3a4cc0"/>
<polygon points="348.75,235.15 345.75,240.4 351.75,240.4" fill="#3a4cc0"/>
<polygon points="358.8,242.69 355.8,247.94 361.8,247.94" fill="#3a4cc0"/>
<polygon points="369.69,246.71 366.69,251.96 372.69,251.96" fill="#3a4cc0"/>
<polygon points="379.32,259.27 376.32,264.52 382.32,264.52" fill="#3a4cc0"/>
<polygon points="389.79,278.37 386.79,283.62 392.79,283.62" fill="#3a4cc0"/>
<rect x="321.96" y="229.62" width="5" height="5" fill="#a855c4"/>
<rect x="329.5" y="230.12" width="5" height="5" fill="#a855c4"/>
<rect x="337.46" y="232.13" width="5" height="5" fill="#a855c4"/>
<rect x="344.16" y="235.65" width="5" height="5" fill="#a855c4"/>
<rect x="351.69" y="239.67" width="5" height="5" fill="#a855c4"/>
<rect x="360.07" y="243.69" width="5" height="5" fill="#a855c4"/>
<rect x="367.61" y="252.74" width="5" height="5" fill="#a855c4"/>
<circle cx="327.81" cy="233.63" r="2.6" fill="#f0609a"/>
<circle cx="337.02" cy="234.13" r="2.6" fill="#f0609a"/>
<circle cx="345.82" cy="234.63" r="2.6" fill="#f0609a"/>
<circle cx="355.03" cy="237.14" r="2.6" fill="#f0609a"/>
<circle cx="364.66" cy="240.16" r="2.6" fill="#f0609a"/>
<circle cx="374.29" cy="244.18" r="2.6" fill="#f0609a"/>
<circle cx="383.92" cy="256.74" r="2.6" fill="#f0609a"/>
<text x="455.9" y="233.7" font-size="12.9" font-weight="normal" text-anchor="middle" fill="#1a1a1a" stroke="#1a1a1a" stroke-width="0.3" >Plasmid</text>
<text x="455.9" y="247.9" font-size="12.9" font-weight="normal" text-anchor="middle" fill="#1a1a1a" stroke="#1a1a1a" stroke-width="0.3" >concentration</text>
<text x="455.9" y="262.1" font-size="12.9" font-weight="normal" text-anchor="middle" fill="#1a1a1a" stroke="#1a1a1a" stroke-width="0.3" >(µg/mL)</text>
<line x1="431.7" y1="277.2" x2="448.1" y2="277.2" stroke="#f0609a" stroke-width="1" />
<circle cx="439.9" cy="277.2" r="2.42" fill="#f0609a"/>
<text x="457.8" y="280.5" font-size="12.9" font-weight="normal" text-anchor="start" fill="#1a1a1a" stroke="#1a1a1a" stroke-width="0.3" >12.5</text>
<line x1="431.7" y1="289.3" x2="448.1" y2="289.3" stroke="#a855c4" stroke-width="1" />
<rect x="437.57" y="286.98" width="4.65" height="4.65" fill="#a855c4"/>
<text x="457.8" y="292.6" font-size="12.9" font-weight="normal" text-anchor="start" fill="#1a1a1a" stroke="#1a1a1a" stroke-width="0.3" >25.0</text>
<line x1="431.7" y1="301.3" x2="448.1" y2="301.3" stroke="#3a4cc0" stroke-width="1" />
<polygon points="439.9,298.51 437.11,303.39 442.69,303.39" fill="#3a4cc0"/>
<text x="457.8" y="304.6" font-size="12.9" font-weight="normal" text-anchor="start" fill="#1a1a1a" stroke="#1a1a1a" stroke-width="0.3" >37.5</text>
<line x1="431.7" y1="313.4" x2="448.1" y2="313.4" stroke="#5fce3a" stroke-width="1" />
<polygon points="439.9,310.7 442.6,313.4 439.9,316.1 437.2,313.4" fill="#5fce3a"/>
<text x="457.8" y="316.7" font-size="12.9" font-weight="normal" text-anchor="start" fill="#1a1a1a" stroke="#1a1a1a" stroke-width="0.3" >50.0</text>
<line x1="431.7" y1="325.5" x2="448.1" y2="325.5" stroke="#000000" stroke-width="1" />
<polygon points="439.9,323.08 442.32,325.5 439.9,327.92 437.48,325.5" fill="#000000"/>
<text x="457.8" y="328.8" font-size="12.9" font-weight="normal" text-anchor="start" fill="#1a1a1a" stroke="#1a1a1a" stroke-width="0.3" >62.5</text>
<line x1="431.7" y1="338.3" x2="448.1" y2="338.3" stroke="#9a9a9a" stroke-width="1" />
<circle cx="439.9" cy="338.3" r="2.23" fill="#e6e6e6" stroke="#9a9a9a" stroke-width="1.3"/>
<text x="457.8" y="341.6" font-size="12.9" font-weight="normal" text-anchor="start" fill="#1a1a1a" stroke="#1a1a1a" stroke-width="0.3" >75.0</text>
<line x1="431.7" y1="351.2" x2="448.1" y2="351.2" stroke="#555555" stroke-width="1" />
<rect x="437.76" y="349.06" width="4.28" height="4.28" fill="#e6e6e6" stroke="#555555" stroke-width="1.3"/>
<text x="457.8" y="354.5" font-size="12.9" font-weight="normal" text-anchor="start" fill="#1a1a1a" stroke="#1a1a1a" stroke-width="0.3" >100</text>
<text transform="translate(522.6 209.3) scale(1.045 1)" font-size="27.5" font-weight="bold" fill="#111" stroke="#111" stroke-width="0.3">F</text>
<line x1="570.3" y1="227.35" x2="570.3" y2="334.8" stroke="#1a1a1a" stroke-width="1.5" />
<line x1="564.1" y1="328.6" x2="570.3" y2="328.6" stroke="#1a1a1a" stroke-width="1.5" />
<text x="562.1" y="332.5" font-size="11.8" font-weight="bold" text-anchor="end" fill="#1a1a1a" stroke="#1a1a1a" stroke-width="0.3" >0</text>
<line x1="564.1" y1="303.48" x2="570.3" y2="303.48" stroke="#1a1a1a" stroke-width="1.5" />
<text x="562.1" y="307.38" font-size="11.8" font-weight="bold" text-anchor="end" fill="#1a1a1a" stroke="#1a1a1a" stroke-width="0.3" >20</text>
<line x1="564.1" y1="278.35" x2="570.3" y2="278.35" stroke="#1a1a1a" stroke-width="1.5" />
<text x="562.1" y="282.25" font-size="11.8" font-weight="bold" text-anchor="end" fill="#1a1a1a" stroke="#1a1a1a" stroke-width="0.3" >40</text>
<line x1="564.1" y1="253.23" x2="570.3" y2="253.23" stroke="#1a1a1a" stroke-width="1.5" />
<text x="562.1" y="257.12" font-size="11.8" font-weight="bold" text-anchor="end" fill="#1a1a1a" stroke="#1a1a1a" stroke-width="0.3" >60</text>
<line x1="564.1" y1="228.1" x2="570.3" y2="228.1" stroke="#1a1a1a" stroke-width="1.5" />
<text x="562.1" y="232" font-size="11.8" font-weight="bold" text-anchor="end" fill="#1a1a1a" stroke="#1a1a1a" stroke-width="0.3" >80</text>
<line x1="570.3" y1="328.6" x2="671.55" y2="328.6" stroke="#1a1a1a" stroke-width="1.5" />
<line x1="570.3" y1="328.6" x2="570.3" y2="334.8" stroke="#1a1a1a" stroke-width="1.5" />
<text x="570.3" y="348" font-size="11.8" font-weight="bold" text-anchor="middle" fill="#1a1a1a" stroke="#1a1a1a" stroke-width="0.3" >0</text>
<line x1="603.8" y1="328.6" x2="603.8" y2="334.8" stroke="#1a1a1a" stroke-width="1.5" />
<text x="603.8" y="348" font-size="11.8" font-weight="bold" text-anchor="middle" fill="#1a1a1a" stroke="#1a1a1a" stroke-width="0.3" >4</text>
<line x1="637.3" y1="328.6" x2="637.3" y2="334.8" stroke="#1a1a1a" stroke-width="1.5" />
<text x="637.3" y="348" font-size="11.8" font-weight="bold" text-anchor="middle" fill="#1a1a1a" stroke="#1a1a1a" stroke-width="0.3" >8</text>
<line x1="670.8" y1="328.6" x2="670.8" y2="334.8" stroke="#1a1a1a" stroke-width="1.5" />
<text x="670.8" y="348" font-size="11.8" font-weight="bold" text-anchor="middle" fill="#1a1a1a" stroke="#1a1a1a" stroke-width="0.3" >12</text>
<text transform="translate(526.5 279.05) rotate(-90)" font-size="12.8" font-weight="bold" text-anchor="middle" fill="#1a1a1a" stroke="#1a1a1a" stroke-width="0.3">Efficiency %</text>
<text transform="translate(540 279.05) rotate(-90)" font-size="12.8" font-weight="bold" text-anchor="middle" fill="#1a1a1a" stroke="#1a1a1a" stroke-width="0.3">(GFP x viability)</text>
<text x="620.25" y="365.6" font-size="12.8" font-weight="bold" text-anchor="middle" fill="#1a1a1a" stroke="#1a1a1a" stroke-width="0.3" >Peak current (mA)</text>
<polyline points="581.19,308.05 582.38,303.53 583.57,299.24 584.77,295.17 585.96,291.32 587.15,287.69 588.35,284.28 589.54,281.1 590.73,278.13 591.93,275.38 593.12,272.85 594.32,270.54 595.51,268.45 596.7,266.59 597.9,264.94 599.09,263.51 600.28,262.3 601.48,261.32 602.67,260.55 603.86,260.01 605.06,259.68 606.25,259.58 607.44,259.69 608.64,260.03 609.83,260.58 611.02,261.36 612.22,262.35 613.41,263.57 614.6,265.01 615.8,266.66 616.99,268.54 618.18,270.64 619.38,272.95 620.57,275.49 621.76,278.25 622.96,281.23 624.15,284.43 625.34,287.85 626.54,291.49 627.73,295.34 628.92,299.42" fill="none" stroke="#9a9a9a" stroke-width="0.75" />
<polyline points="587.05,300.81 588.58,296.17 590.11,291.77 591.64,287.62 593.16,283.73 594.69,280.09 596.22,276.69 597.75,273.55 599.28,270.66 600.81,268.02 602.33,265.63 603.86,263.49 605.39,261.61 606.92,259.97 608.45,258.59 609.98,257.45 611.5,256.57 613.03,255.94 614.56,255.56 616.09,255.43 617.62,255.55 619.15,255.92 620.68,256.55 622.2,257.42 623.73,258.55 625.26,259.92 626.79,261.55 628.32,263.43 629.85,265.56 631.37,267.94 632.9,270.57 634.43,273.45 635.96,276.58 637.49,279.97 639.02,283.6 640.55,287.49 642.07,291.63 643.6,296.01 645.13,300.65 646.66,305.54 648.19,310.68" fill="none" stroke="#555555" stroke-width="0.75" />
<polyline points="582.86,310.93 584.35,306.21 585.84,301.73 587.32,297.51 588.81,293.54 590.3,289.82 591.78,286.35 593.27,283.12 594.75,280.15 596.24,277.43 597.73,274.95 599.21,272.73 600.7,270.75 602.19,269.02 603.67,267.55 605.16,266.32 606.65,265.34 608.13,264.62 609.62,264.14 611.11,263.91 612.59,263.93 614.08,264.2 615.57,264.72 617.05,265.49 618.54,266.5 620.03,267.77 621.51,269.29 623,271.06 624.49,273.07 625.97,275.34 627.46,277.85 628.95,280.62 630.43,283.63 631.92,286.9 633.41,290.41 634.89,294.17 636.38,298.19 637.87,302.45 639.35,306.96 640.84,311.72 642.32,316.73" fill="none" stroke="#333" stroke-width="0.75" />
<polyline points="582.86,316.4 584.06,310.64 585.25,305.13 586.44,299.88 587.64,294.89 588.83,290.15 590.02,285.67 591.22,281.45 592.41,277.48 593.6,273.77 594.8,270.31 595.99,267.12 597.18,264.18 598.38,261.49 599.57,259.06 600.76,256.89 601.96,254.98 603.15,253.32 604.34,251.92 605.54,250.77 606.73,249.88 607.92,249.25 609.12,248.87 610.31,248.75 611.5,248.89 612.7,249.28 613.89,249.93 615.09,250.84 616.28,252 617.47,253.42 618.67,255.1 619.86,257.03 621.05,259.22 622.25,261.66 623.44,264.37 624.63,267.33 625.83,270.54 627.02,274.01 628.21,277.74 629.41,281.72 630.6,285.97" fill="none" stroke="#5fce3a" stroke-width="0.75" />
<polyline points="586.63,313.13 588.19,306.84 589.75,300.84 591.31,295.12 592.87,289.7 594.43,284.56 595.99,279.72 597.55,275.16 599.11,270.89 600.67,266.91 602.23,263.22 603.79,259.82 605.35,256.7 606.91,253.88 608.47,251.34 610.03,249.1 611.59,247.14 613.15,245.47 614.71,244.09 616.27,243 617.83,242.2 619.39,241.68 620.95,241.46 622.51,241.52 624.07,241.88 625.63,242.52 627.19,243.45 628.75,244.67 630.31,246.18 631.87,247.98 633.43,250.06 634.99,252.44 636.55,255.1 638.11,258.06 639.67,261.3 641.23,264.83 642.79,268.65 644.35,272.76 645.91,277.16 647.47,281.85 649.02,286.82" fill="none" stroke="#3a4cc0" stroke-width="0.75" />
<polyline points="581.61,325.96 582.8,320.43 583.99,315.11 585.19,309.98 586.38,305.05 587.57,300.33 588.77,295.8 589.96,291.47 591.15,287.35 592.35,283.42 593.54,279.69 594.73,276.17 595.93,272.84 597.12,269.71 598.31,266.79 599.51,264.06 600.7,261.54 601.89,259.21 603.09,257.08 604.28,255.16 605.47,253.43 606.67,251.9 607.86,250.58 609.06,249.45 610.25,248.52 611.44,247.8 612.64,247.27 613.83,246.95 615.02,246.82 616.22,246.89 617.41,247.17 618.6,247.64 619.8,248.32 620.99,249.19 622.18,250.26 623.38,251.54 624.57,253.01 625.76,254.69 626.96,256.56 628.15,258.63 629.34,260.91" fill="none" stroke="#a855c4" stroke-width="0.75" />
<polyline points="585.38,329.94 586.82,325.65 588.26,321.48 589.71,317.45 591.15,313.56 592.6,309.79 594.04,306.16 595.49,302.66 596.93,299.29 598.38,296.05 599.82,292.95 601.27,289.98 602.71,287.14 604.16,284.43 605.6,281.86 607.05,279.42 608.49,277.11 609.93,274.93 611.38,272.89 612.82,270.98 614.27,269.2 615.71,267.55 617.16,266.04 618.6,264.65 620.05,263.4 621.49,262.29 622.94,261.3 624.38,260.45 625.83,259.73 627.27,259.14 628.72,258.69 630.16,258.37 631.6,258.18 633.05,258.12 634.49,258.19 635.94,258.4 637.38,258.74 638.83,259.21 640.27,259.82 641.72,260.55 643.16,261.42" fill="none" stroke="#f0609a" stroke-width="0.75" />
<circle cx="582.02" cy="311.11" r="2.4" fill="#fff" stroke="#9a9a9a" stroke-width="1"/>
<circle cx="588.72" cy="276.64" r="2.4" fill="#fff" stroke="#9a9a9a" stroke-width="1"/>
<circle cx="597.1" cy="260.54" r="2.4" fill="#fff" stroke="#9a9a9a" stroke-width="1"/>
<circle cx="603.8" cy="260.62" r="2.4" fill="#fff" stroke="#9a9a9a" stroke-width="1"/>
<circle cx="612.17" cy="269.22" r="2.4" fill="#fff" stroke="#9a9a9a" stroke-width="1"/>
<circle cx="620.55" cy="277.77" r="2.4" fill="#fff" stroke="#9a9a9a" stroke-width="1"/>
<circle cx="628.09" cy="292.55" r="2.4" fill="#fff" stroke="#9a9a9a" stroke-width="1"/>
<rect x="585.59" y="304.11" width="4.6" height="4.6" fill="#fff" stroke="#555555" stroke-width="1"/>
<rect x="594.8" y="265.55" width="4.6" height="4.6" fill="#fff" stroke="#555555" stroke-width="1"/>
<rect x="604.01" y="248.43" width="4.6" height="4.6" fill="#fff" stroke="#555555" stroke-width="1"/>
<rect x="614.9" y="255.22" width="4.6" height="4.6" fill="#fff" stroke="#555555" stroke-width="1"/>
<rect x="625.37" y="267.87" width="4.6" height="4.6" fill="#fff" stroke="#555555" stroke-width="1"/>
<rect x="634.58" y="282.09" width="4.6" height="4.6" fill="#fff" stroke="#555555" stroke-width="1"/>
<rect x="645.05" y="298.83" width="4.6" height="4.6" fill="#fff" stroke="#555555" stroke-width="1"/>
<polygon points="583.7,309.03 586.3,311.63 583.7,314.23 581.1,311.63" fill="#000000"/>
<polygon points="589.56,288.21 592.16,290.81 589.56,293.41 586.96,290.81" fill="#000000"/>
<polygon points="596.26,274.85 598.86,277.45 596.26,280.05 593.66,277.45" fill="#000000"/>
<polygon points="603.8,257.66 606.4,260.26 603.8,262.86 601.2,260.26" fill="#000000"/>
<polygon points="612.17,259.42 614.77,262.02 612.17,264.62 609.57,262.02" fill="#000000"/>
<polygon points="622.22,272.61 624.82,275.21 622.22,277.81 619.62,275.21" fill="#000000"/>
<polygon points="632.27,292.78 634.88,295.38 632.27,297.98 629.67,295.38" fill="#000000"/>
<polygon points="641.49,304.93 644.09,307.53 641.49,310.13 638.89,307.53" fill="#000000"/>
<polygon points="583.7,313.58 586.6,316.48 583.7,319.38 580.8,316.48" fill="#5fce3a"/>
<polygon points="590.4,280.95 593.3,283.85 590.4,286.75 587.5,283.85" fill="#5fce3a"/>
<polygon points="597.94,250.33 600.84,253.23 597.94,256.12 595.04,253.23" fill="#5fce3a"/>
<polygon points="604.64,246.98 607.54,249.88 604.64,252.78 601.74,249.88" fill="#5fce3a"/>
<polygon points="613.85,255.35 616.75,258.25 613.85,261.15 610.95,258.25" fill="#5fce3a"/>
<polygon points="622.22,262.89 625.12,265.79 622.22,268.69 619.32,265.79" fill="#5fce3a"/>
<polygon points="629.76,274.82 632.66,277.72 629.76,280.62 626.86,277.72" fill="#5fce3a"/>
<polygon points="587.47,308.11 584.47,313.36 590.47,313.36" fill="#3a4cc0"/>
<polygon points="598.36,271.27 595.36,276.52 601.36,276.52" fill="#3a4cc0"/>
<polygon points="607.15,243.86 604.15,249.11 610.15,249.11" fill="#3a4cc0"/>
<polygon points="617.2,241.13 614.2,246.38 620.2,246.38" fill="#3a4cc0"/>
<polygon points="628.09,242.76 625.09,248.01 631.09,248.01" fill="#3a4cc0"/>
<polygon points="637.72,257.61 634.72,262.86 640.72,262.86" fill="#3a4cc0"/>
<polygon points="648.19,278.37 645.19,283.62 651.19,283.62" fill="#3a4cc0"/>
<rect x="579.94" y="318.5" width="5" height="5" fill="#a855c4"/>
<rect x="587.9" y="292.15" width="5" height="5" fill="#a855c4"/>
<rect x="595.44" y="260.91" width="5" height="5" fill="#a855c4"/>
<rect x="602.56" y="249.78" width="5" height="5" fill="#a855c4"/>
<rect x="610.09" y="245.07" width="5" height="5" fill="#a855c4"/>
<rect x="618.47" y="251.42" width="5" height="5" fill="#a855c4"/>
<rect x="626.01" y="254.11" width="5" height="5" fill="#a855c4"/>
<circle cx="586.21" cy="324.44" r="2.6" fill="#f0609a"/>
<circle cx="595.42" cy="307.34" r="2.6" fill="#f0609a"/>
<circle cx="604.22" cy="285.14" r="2.6" fill="#f0609a"/>
<circle cx="613.43" cy="268.58" r="2.6" fill="#f0609a"/>
<circle cx="623.06" cy="260.61" r="2.6" fill="#f0609a"/>
<circle cx="632.69" cy="256.32" r="2.6" fill="#f0609a"/>
<circle cx="642.32" cy="262.58" r="2.6" fill="#f0609a"/>
<text x="714.4" y="233.7" font-size="12.9" font-weight="normal" text-anchor="middle" fill="#1a1a1a" stroke="#1a1a1a" stroke-width="0.3" >Plasmid</text>
<text x="714.4" y="247.9" font-size="12.9" font-weight="normal" text-anchor="middle" fill="#1a1a1a" stroke="#1a1a1a" stroke-width="0.3" >concentration</text>
<text x="714.4" y="262.1" font-size="12.9" font-weight="normal" text-anchor="middle" fill="#1a1a1a" stroke="#1a1a1a" stroke-width="0.3" >(µg/mL)</text>
<line x1="690.2" y1="277.2" x2="706.6" y2="277.2" stroke="#f0609a" stroke-width="1" />
<circle cx="698.4" cy="277.2" r="2.42" fill="#f0609a"/>
<text x="716.6" y="280.5" font-size="12.9" font-weight="normal" text-anchor="start" fill="#1a1a1a" stroke="#1a1a1a" stroke-width="0.3" >12.5</text>
<line x1="690.2" y1="289.3" x2="706.6" y2="289.3" stroke="#a855c4" stroke-width="1" />
<rect x="696.07" y="286.98" width="4.65" height="4.65" fill="#a855c4"/>
<text x="716.6" y="292.6" font-size="12.9" font-weight="normal" text-anchor="start" fill="#1a1a1a" stroke="#1a1a1a" stroke-width="0.3" >25.0</text>
<line x1="690.2" y1="301.3" x2="706.6" y2="301.3" stroke="#3a4cc0" stroke-width="1" />
<polygon points="698.4,298.51 695.61,303.39 701.19,303.39" fill="#3a4cc0"/>
<text x="716.6" y="304.6" font-size="12.9" font-weight="normal" text-anchor="start" fill="#1a1a1a" stroke="#1a1a1a" stroke-width="0.3" >37.5</text>
<line x1="690.2" y1="313.4" x2="706.6" y2="313.4" stroke="#5fce3a" stroke-width="1" />
<polygon points="698.4,310.7 701.1,313.4 698.4,316.1 695.7,313.4" fill="#5fce3a"/>
<text x="716.6" y="316.7" font-size="12.9" font-weight="normal" text-anchor="start" fill="#1a1a1a" stroke="#1a1a1a" stroke-width="0.3" >50.0</text>
<line x1="690.2" y1="325.5" x2="706.6" y2="325.5" stroke="#000000" stroke-width="1" />
<polygon points="698.4,323.08 700.82,325.5 698.4,327.92 695.98,325.5" fill="#000000"/>
<text x="716.6" y="328.8" font-size="12.9" font-weight="normal" text-anchor="start" fill="#1a1a1a" stroke="#1a1a1a" stroke-width="0.3" >62.5</text>
<line x1="690.2" y1="338.3" x2="706.6" y2="338.3" stroke="#9a9a9a" stroke-width="1" />
<circle cx="698.4" cy="338.3" r="2.23" fill="#e6e6e6" stroke="#9a9a9a" stroke-width="1.3"/>
<text x="716.6" y="341.6" font-size="12.9" font-weight="normal" text-anchor="start" fill="#1a1a1a" stroke="#1a1a1a" stroke-width="0.3" >75.0</text>
<line x1="690.2" y1="351.2" x2="706.6" y2="351.2" stroke="#555555" stroke-width="1" />
<rect x="696.26" y="349.06" width="4.28" height="4.28" fill="#e6e6e6" stroke="#555555" stroke-width="1.3"/>
<text x="716.6" y="354.5" font-size="12.9" font-weight="normal" text-anchor="start" fill="#1a1a1a" stroke="#1a1a1a" stroke-width="0.3" >100</text>
</svg>
</body></html>
